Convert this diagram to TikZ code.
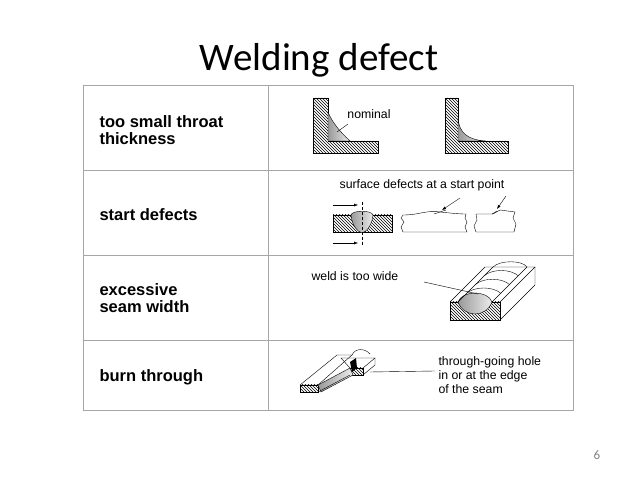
\documentclass[tikz,border=0pt]{standalone}
\usepackage{fontspec}
\setmainfont{Liberation Sans}
\newfontfamily\titlefont{Carlito}
\usetikzlibrary{patterns,arrows.meta,calc}
\tikzset{
	grid line/.style={draw=gray!70, line width=0.8pt},
	rowlabel/.style={anchor=west, align=left, font=\bfseries\fontsize{16.5}{16.5}\selectfont},
	small/.style={font=\fontsize{12.3}{14}\selectfont},
	plate/.style={draw=black, pattern=north west lines, line width=0.5pt},
	bead/.style={draw=black, left color=gray!80, right color=gray!15},
	lead/.style={draw=black, line width=0.4pt}
}
\begin{document}
\begin{tikzpicture}[x=1pt,y=-1pt]

	\useasboundingbox (0,0) rectangle (638,478);

	% title and page number
	\node (title) at (319,60) {\titlefont\fontsize{39}{44}\selectfont Welding defect};
	\node[text=gray] (page) at (597,455) {\titlefont\fontsize{13}{15}\selectfont 6};

	% table
	\draw[grid line] (83,85) rectangle (573,410);
	\draw[grid line] (268,85) -- (268,410);
	\draw[grid line] (83,170) -- (573,170);
	\draw[grid line] (83,255) -- (573,255);
	\draw[grid line] (83,340) -- (573,340);

	\node[rowlabel] (r1) at (96,130) {too small throat\\thickness};
	\node[rowlabel] (r2) at (96,215) {start defects};
	\node[rowlabel] (r3) at (96,298) {excessive\\seam width};
	\node[rowlabel] (r4) at (96,377) {burn through};

	% row 1: fillet welds
	\draw[plate] (313,98) -- (328,98) -- (328,141) -- (378,141) -- (378,153) -- (313,153) -- cycle;
	\draw[bead] (328,112) .. controls (332,122) and (340,132) .. (350,141) -- (328,141) -- cycle;
	\node[small] (nominal) at (369,114) {nominal};
	\draw[lead] (nominal.south west) ++(4,2) -- (337,132);

	\draw[plate] (445,98) -- (458,98) -- (458,141) -- (508,141) -- (508,153) -- (445,153) -- cycle;
	\draw[bead] (458,118) .. controls (459,133) and (468,140) .. (486,141) -- (458,141) -- cycle;

	% row 2: start defects
	\node[small] (surf) at (422,185) {surface defects at a start point};
	\draw[plate] (333,215) rectangle (392,232);
	\draw[bead] (351,215) .. controls (352,210) and (372,210) .. (373,215)
		.. controls (372,226) and (366,232) .. (362,233) .. controls (358,232) and (352,226) .. cycle;
	\draw[densely dashed] (362,202) -- (362,245);
	\coordinate (a1) at (333,205);
	\coordinate (a1e) at (358,205);
	\coordinate (a2) at (333,243);
	\coordinate (a2e) at (358,243);
	\draw[-{Latex[length=4pt]}] (a1) -- (a1e);
	\draw[-{Latex[length=4pt]}] (a2) -- (a2e);

	\draw (403,215) .. controls (420,215) and (425,210) .. (440,212) .. controls (450,213) and (458,214) .. (466,214)
		-- (465,218) -- (467,222) -- (465,227) -- (467,232) -- (403,232) -- (401,227) -- (404,222) -- (401,218) -- cycle;
	\draw (434,214) -- (446,210);
	\coordinate (d1) at (460,198);
	\coordinate (d1e) at (442,210);
	\draw[-{Latex[length=4pt]}] (d1) -- (d1e);

	\draw (476,214) -- (493,214) -- (500,210) -- (515,212) -- (513,218) -- (516,224) -- (514,232)
		-- (476,232) -- (474,226) -- (477,220) -- cycle;
	\draw (492,214) -- (497,211);
	\coordinate (d2) at (506,196);
	\coordinate (d2e) at (497,209);
	\draw[-{Latex[length=4pt]}] (d2) -- (d2e);

	% row 3: excessive seam width
	\node[small, anchor=west] (wide) at (308,276) {weld is too wide};
	\draw[plate] (450,302) rectangle (500,320);
	\draw (450,302) -- (485,267) -- (535,267) -- (500,302);
	\draw (500,320) -- (535,285) -- (535,267);
	\draw[bead] (458,302) .. controls (462,290) and (488,290) .. (492,302)
		.. controls (486,318) and (464,318) .. cycle;
	\draw (458,302) -- (493,267);
	\draw (492,302) -- (527,267);
	\draw (493,267) .. controls (500,260) and (522,260) .. (527,267);
	\foreach \s in {0.25,0.5,0.75} {
		\draw ($(458,302)!\s!(493,267)$) .. controls +(8,-7) and +(-8,-7) .. ($(492,302)!\s!(527,267)$);
	}
	\coordinate (wend) at (478,294);
	\draw[lead] (424,282) -- (wend);

	% row 4: burn through
	\node[small, anchor=west, align=left] (hole) at (435,375) {through-going hole\\in or at the edge\\of the seam};
	\draw[plate] (300,385) -- (318,385) -- (318,392) -- (300,392) -- cycle;
	\draw (300,385) -- (337,355) -- (352,355) -- (318,385);
	\draw[plate] (350,368) -- (363,368) -- (363,375) -- (350,375) -- cycle;
	\draw (363,368) -- (375,358) -- (341,358) -- (350,368);
	\draw (363,375) -- (375,365) -- (375,358);
	\draw (352,355) .. controls (355,348) and (365,348) .. (370,354);
	\draw[bead] (318,385) -- (350,368) -- (353,375) -- (321,392) -- cycle;
	\fill[black] (350,362) -- (356,358) -- (357,368) -- (352,372) -- cycle;
	\draw (318,392) -- (350,375);
	\draw[lead] (370,372) -- (hole.west |- 0,371);

\end{tikzpicture}
\end{document}
